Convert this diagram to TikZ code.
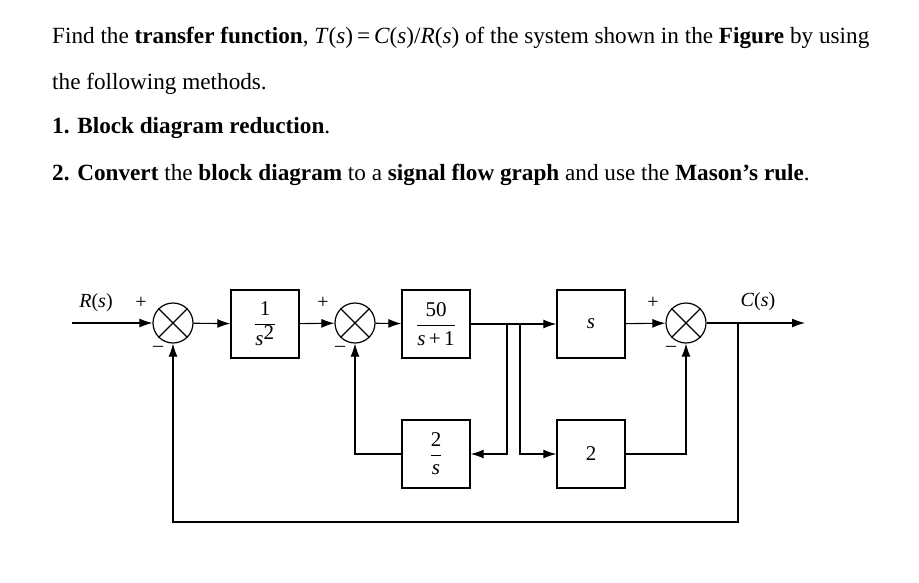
\documentclass[tikz,border=0pt]{standalone}
\usepackage{fontspec}
\setmainfont{Liberation Serif}
\usetikzlibrary{arrows.meta}
\newcommand{\vi}[1]{\textit{#1}}
\begin{document}
\begin{tikzpicture}[x=1pt,y=-1pt,
  blk/.style={draw,line width=1.4pt,minimum width=68pt,minimum height=68pt,inner sep=0pt,font=\fontsize{21}{24}\selectfont},
  sum/.style={draw,line width=1.2pt,circle,minimum size=40pt,inner sep=0pt},
  ar/.style={-{Latex[length=13pt,width=9pt]},line width=1.1pt},
  txt/.style={anchor=west,inner sep=0pt,font=\fontsize{23.2}{26}\selectfont},
  lab/.style={font=\fontsize{20}{22}\selectfont,inner sep=0pt}]
\useasboundingbox (0,0) rectangle (919,582);
\node[txt] (t1) at (52,38) {Find the \textbf{transfer function}, \vi{T}(\vi{s})\,=\,\vi{C}(\vi{s})/\vi{R}(\vi{s}) of the system shown in the \textbf{Figure} by using};
\node[txt] (t2) at (52,84) {the following methods.};
\node[txt] (t3) at (52,128) {\textbf{1. Block diagram reduction}.};
\node[txt] (t4) at (52,175) {\textbf{2. Convert} the \textbf{block diagram} to a \textbf{signal flow graph} and use the \textbf{Mason’s rule}.};

\coordinate (in) at (72,323);
\node[sum] (s1) at (173,323) {};
\node[blk] (g1) at (265,324) {$\displaystyle\frac{\textup{1}}{\vi{s}^{\textup{2}}}$};
\node[sum] (s2) at (355,323) {};
\node[blk] (g2) at (436,324) {$\displaystyle\frac{\textup{50}}{\vi{s}\,\textup{+}\,\textup{1}}$};
\node[blk] (g3) at (591,324) {\vi{s}};
\node[sum] (s3) at (686,323) {};
\node[blk] (h1) at (436,454) {$\displaystyle\frac{\textup{2}}{\vi{s}}$};
\node[blk] (h2) at (591,454) {2};
\coordinate (b1) at (507,323);
\coordinate (b2) at (520,323);
\coordinate (bo) at (738,323);
\coordinate (out) at (805,323);
\foreach \s in {s1,s2,s3}{
  \draw[line width=1.2pt] (\s.north east)--(\s.south west) (\s.north west)--(\s.south east);}
\draw[ar] (in)--(s1);
\draw[ar] (s1)--(g1);
\draw[ar] (g1)--(s2);
\draw[ar] (s2)--(g2);
\draw[ar] (g2)--(g3);
\draw[ar] (g3)--(s3);
\draw[ar] (s3)--(out);
\draw[ar] (b1)|-(h1);
\draw[ar] (b2)|-(h2);
\draw[ar] (h1)-|(s2);
\draw[ar] (h2)-|(s3);
\draw[ar] (bo)--(738,522)-|(s1);
\node[lab] (lr) at (96,303) {\vi{R}(\vi{s})};
\node[lab] (p1) at (141,303) {+};
\node[lab] (m1) at (158,349) {–};
\node[lab] (p2) at (323,303) {+};
\node[lab] (m2) at (340,349) {–};
\node[lab] (p3) at (653,303) {+};
\node[lab] (m3) at (671,349) {–};
\node[lab] (lc) at (758,302) {\vi{C}(\vi{s})};
\end{tikzpicture}
\end{document}
